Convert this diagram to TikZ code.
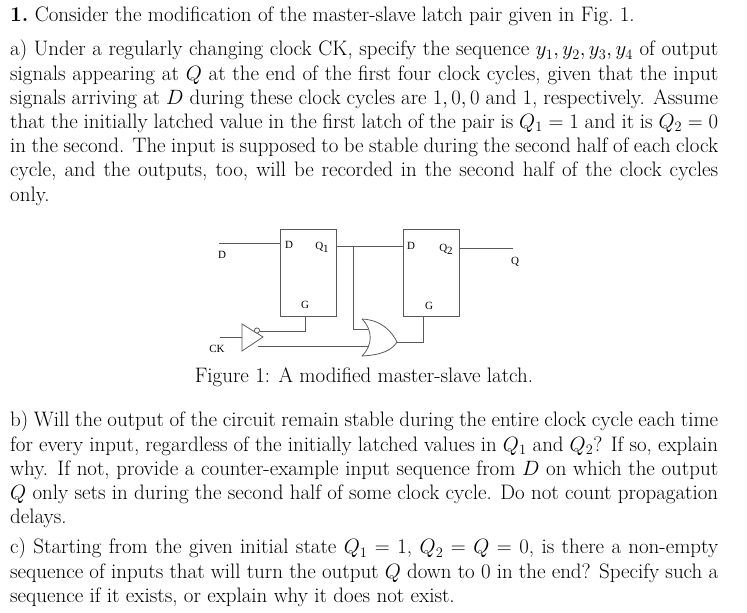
\documentclass[tikz,border=0pt]{standalone}
\usepackage{fontspec}
\newfontfamily\tms{Liberation Serif}
\newcommand{\sbs}[1]{\raisebox{-3pt}{#1}}
\begin{document}
\begin{tikzpicture}[x=1pt,y=-1pt,
  txt/.style={anchor=north west,inner sep=0pt,text width=708pt,align=justify,font=\fontsize{20.95}{24.2}\selectfont},
  wire/.style={draw=black!65,line width=0.8pt},
  box/.style={draw=black!65,line width=0.8pt},
  lab/.style={font=\tms\fontsize{11}{12}\selectfont,inner sep=0pt}]
\useasboundingbox (0,0) rectangle (747,613);
\node[txt] (t0) at (10,7) {\textbf{1.}\ Consider the modification of the master-slave latch pair given in Fig.~1.};
\node[txt] (ta) at (10,40) {a) Under a regularly changing clock CK, specify the sequence $y_1,y_2,y_3,y_4$ of output signals appearing at $Q$ at the end of the first four clock cycles, given that the input signals arriving at $D$ during these clock cycles are $1,0,0$ and $1$, respectively. Assume that the initially latched value in the first latch of the pair is $Q_1=1$ and it is $Q_2=0$ in the second. The input is supposed to be stable during the second half of each clock cycle, and the outputs, too, will be recorded in the second half of the clock cycles only.};
\node[txt] (tb) at (10,411) {b) Will the output of the circuit remain stable during the entire clock cycle each time for every input, regardless of the initially latched values in $Q_1$ and $Q_2$? If so, explain why. If not, provide a counter-example input sequence from $D$ on which the output $Q$ only sets in during the second half of some clock cycle. Do not count propagation delays.};
\node[txt] (tc) at (10,538) {c) Starting from the given initial state $Q_1=1$, $Q_2=Q=0$, is there a non-empty sequence of inputs that will turn the output $Q$ down to 0 in the end? Specify such a sequence if it exists, or explain why it does not exist.};
\node[font=\fontsize{20.95}{24}\selectfont,inner sep=0pt] (cap) at (364,377) {Figure 1: A modified master-slave latch.};
% latches
\draw[box] (280,229) rectangle (336,316);
\draw[box] (403,229) rectangle (459,316);
\node[lab] (l1d) at (289,245) {D};
\node[lab] (l1q) at (322,247) {Q\sbs{1}};
\node[lab] (l1g) at (305,305) {G};
\node[lab] (l2d) at (411,246) {D};
\node[lab] (l2q) at (446,249) {Q\sbs{2}};
\node[lab] (l2g) at (429,306) {G};
\node[lab] (ld) at (222,255) {D};
\node[lab] (lq) at (515,262) {Q};
\node[lab] (lck) at (217,349) {CK};
\coordinate (din) at (219,243);
\coordinate (d1) at (280,243);
\draw[wire] (din) -- (d1);
\coordinate (q1) at (336,246);
\coordinate (d2) at (403,246);
\draw[wire] (q1) -- (d2);
\coordinate (q2) at (459,248);
\coordinate (qout) at (513,248);
\draw[wire] (q2) -- (qout);
% buffer with bubble
\coordinate (ckin) at (220,337);
\draw[wire] (ckin) -- (242,337);
\draw[wire] (242,324) -- (263,337) -- (242,351) -- cycle;
\draw[wire,fill=white] (257,330.5) circle (2.6);
\coordinate (g1) at (305,316);
\draw[wire] (259.5,331) -- (305,331) -- (g1);
% OR gate
\draw[wire] (362,319) .. controls (373,330) and (373,345) .. (362,356);
\draw[wire] (362,319) .. controls (382,320) and (392,332) .. (397,342);
\draw[wire] (362,356) .. controls (382,355) and (392,350) .. (397,342);
\draw[wire] (353,246) -- (353,329) -- (368,329);
\draw[wire] (258,346) -- (369,346);
\coordinate (g2) at (423,316);
\draw[wire] (397,342) -- (423,342) -- (g2);
\end{tikzpicture}
\end{document}
